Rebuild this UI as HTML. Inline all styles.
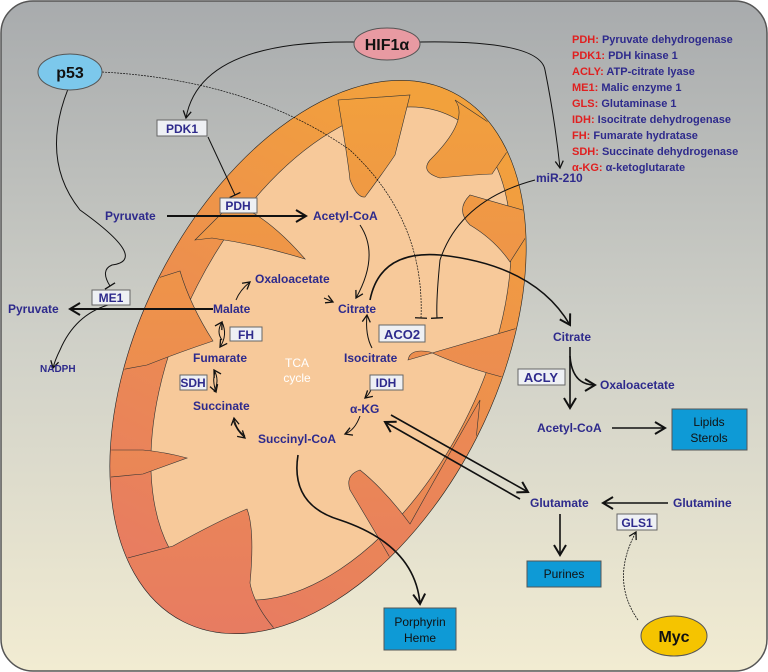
<!DOCTYPE html>
<html><head><meta charset="utf-8"><style>
html,body{margin:0;padding:0;background:#fff;width:768px;height:672px;overflow:hidden}
svg{display:block}
text{font-family:"Liberation Sans",sans-serif;font-weight:bold}
.b{fill:#2e2a8c;font-size:12px}
.r{fill:#e02020;font-size:11px}
.lg{fill:#2e2a8c;font-size:11px}
.n{font-weight:normal;fill:#111;font-size:12px}
</style></head><body>
<svg width="768" height="672" viewBox="0 0 768 672" xmlns="http://www.w3.org/2000/svg">
<defs>
<linearGradient id="bg" x1="0" y1="0" x2="0" y2="1">
<stop offset="0" stop-color="#a8abad"/><stop offset="0.5" stop-color="#cfd0c8"/><stop offset="1" stop-color="#f2ecd2"/></linearGradient>
<linearGradient id="mo" gradientUnits="userSpaceOnUse" x1="0" y1="80" x2="0" y2="640">
<stop offset="0" stop-color="#f2a13c"/><stop offset="1" stop-color="#e77b62"/></linearGradient>
<clipPath id="cl"><ellipse cx="318" cy="357" rx="177" ry="296" transform="rotate(27 318 357)"/></clipPath>
<marker id="a" markerWidth="10" markerHeight="10" refX="8" refY="5" orient="auto" markerUnits="userSpaceOnUse"><path d="M1,1 L8,5 L1,9" fill="none" stroke="#111" stroke-width="1.3"/></marker>
<marker id="A" markerWidth="14" markerHeight="14" refX="11" refY="7" orient="auto" markerUnits="userSpaceOnUse"><path d="M1,1 L11,7 L1,13" fill="none" stroke="#111" stroke-width="2"/></marker>
<marker id="t" markerWidth="12" markerHeight="12" refX="6" refY="6" orient="auto" markerUnits="userSpaceOnUse"><path d="M6,0 L6,12" stroke="#111" stroke-width="1.3"/></marker>
</defs>
<rect x="1" y="1" width="766" height="670" rx="32" fill="url(#bg)" stroke="#555" stroke-width="1.5"/>
<!-- mitochondrion -->
<g transform="rotate(27 318 357)">
<ellipse cx="318" cy="357" rx="178" ry="297" fill="url(#mo)" stroke="#222" stroke-width="0.6"/>
<ellipse cx="328" cy="348" rx="150" ry="266" fill="#f7c99a" stroke="#333" stroke-width="0.6"/>
</g>
<!-- cristae -->
<g fill="url(#mo)" stroke="#333" stroke-width="0.6" clip-path="url(#cl)">
<path d="M195 240 L212 238 Q260 245 305 259 Q280 230 255 214 L230 205 Z"/>
<path d="M338 100 Q348 160 350 180 Q357 198 365 197 Q385 170 395 155 L410 95 Z"/>
<path d="M455 100 Q470 120 430 160 Q420 172 440 178 Q470 175 492 174 L515 140 Z"/>
<path d="M470 195 Q455 210 470 225 Q495 240 510 262 L540 215 Z"/>
<path d="M408 360 Q410 348 430 352 Q470 370 515 380 L545 320 Z"/>
<path d="M480 400 Q440 470 410 524 Q385 490 360 470 Q345 475 350 490 Q380 540 400 575 L470 500 Z"/>
<path d="M120 560 L173 546 Q220 520 247 509 Q255 530 250 583 Q255 610 285 640 L150 640 Z"/>
<path d="M100 450 L143 450 Q165 452 187 458 Q165 466 143 474 L100 478 Z"/>
<path d="M120 290 L180 271 Q190 305 213 341 Q180 352 147 365 L120 370 Z"/>
</g>
<!-- connectors -->
<g fill="none" stroke="#111" stroke-width="1">
<path d="M355 42 Q200 40 186 118" marker-end="url(#a)"/>
<path d="M420 42 Q540 40 545 70 Q555 120 560 168" marker-end="url(#a)"/>
<path d="M535 180 Q460 200 440 260 Q436 300 437 318" marker-end="url(#t)"/>
<path d="M102 72 Q250 80 350 150 Q425 220 421 318" stroke-dasharray="2 1" stroke-width="0.7" marker-end="url(#t)"/>
<path d="M208 137 L235 195" marker-end="url(#t)"/>
<path d="M68 89 Q40 160 80 210 Q150 260 112 265 Q100 270 110 286" marker-end="url(#t)"/>
<path d="M108 305 Q75 315 60 350 Q55 360 53 368" marker-end="url(#a)"/>
<path d="M360 225 Q380 255 356 298" marker-end="url(#a)"/>
<path d="M236 300 Q240 290 250 282" marker-end="url(#a)"/>
<path d="M222 340 Q216 332 222 322" marker-end="url(#a)"/>
<path d="M222 322 Q228 335 220 347" marker-end="url(#a)"/>
<path d="M215 372 Q212 380 216 392" marker-end="url(#a)"/>
<path d="M214 392 Q220 380 214 370" marker-end="url(#a)"/>
<path d="M233 420 Q236 430 245 438" marker-end="url(#a)"/>
<path d="M245 436 Q236 430 234 418" marker-end="url(#a)"/>
<path d="M372 348 Q365 335 367 315" marker-end="url(#a)"/>
<path d="M372 378 Q374 390 365 398" marker-end="url(#a)"/>
<path d="M360 416 Q355 430 345 434" marker-end="url(#a)"/>
<path d="M324 298 L333 302" marker-end="url(#a)"/>
<path d="M638 620 Q610 580 636 532" stroke-dasharray="2 1" stroke-width="0.8" marker-end="url(#a)"/>
</g>
<g fill="none" stroke="#111" stroke-width="2">
<path d="M167 216 L306 216" marker-end="url(#A)"/>
<path d="M213 309 L70 309" marker-end="url(#A)"/>
<path d="M370 300 Q380 250 440 255 Q535 265 570 325" stroke-width="1.6" marker-end="url(#A)"/>
<path d="M570 347 L570 408" stroke-width="1.6" marker-end="url(#A)"/>
<path d="M570 356 Q572 385 595 385" stroke-width="1.6" marker-end="url(#A)"/>
<path d="M612 428 L665 428" stroke-width="1.6" marker-end="url(#A)"/>
<path d="M391 415 L528 492" stroke-width="1.6" marker-end="url(#A)"/>
<path d="M520 499 L385 422" stroke-width="1.6" marker-end="url(#A)"/>
<path d="M668 503 L603 503" stroke-width="1.6" marker-end="url(#A)"/>
<path d="M560 514 L560 555" stroke-width="1.6" marker-end="url(#A)"/>
<path d="M298 455 Q290 505 340 520 Q415 545 420 604" stroke-width="1.6" marker-end="url(#A)"/>
</g>
<!-- nodes -->
<ellipse cx="387" cy="44" rx="33" ry="16" fill="#e89aa2" stroke="#555"/>
<text x="387" y="50" text-anchor="middle" style="font-size:16px;fill:#111">HIF1α</text>
<ellipse cx="70" cy="72" rx="32" ry="18" fill="#7cc8ec" stroke="#555"/>
<text x="70" y="78" text-anchor="middle" style="font-size:16px;fill:#111">p53</text>
<ellipse cx="674" cy="636" rx="33" ry="20" fill="#f5c400" stroke="#555"/>
<text x="674" y="642" text-anchor="middle" style="font-size:16px;fill:#111">Myc</text>
<g fill="#eef0f4" stroke="#666" stroke-width="1">
<rect x="157" y="120" width="50" height="16"/><rect x="220" y="198" width="37" height="15"/>
<rect x="92" y="290" width="38" height="15"/><rect x="230" y="327" width="32" height="14"/>
<rect x="180" y="375" width="27" height="15"/><rect x="379" y="325" width="46" height="17"/>
<rect x="370" y="375" width="33" height="15"/><rect x="518" y="369" width="47" height="16"/>
<rect x="617" y="514" width="40" height="16"/>
</g>
<g fill="#0e9ad6" stroke="#555">
<rect x="672" y="409" width="75" height="41"/><rect x="527" y="561" width="74" height="26"/>
<rect x="384" y="608" width="72" height="42"/>
</g>
<g class="b">
<text x="182" y="133" text-anchor="middle">PDK1</text>
<text x="238" y="210" text-anchor="middle">PDH</text>
<text x="111" y="302" text-anchor="middle">ME1</text>
<text x="246" y="339" text-anchor="middle">FH</text>
<text x="193" y="387" text-anchor="middle">SDH</text>
<text x="402" y="339" text-anchor="middle" style="font-size:13px">ACO2</text>
<text x="386" y="387" text-anchor="middle">IDH</text>
<text x="541" y="382" text-anchor="middle" style="font-size:13px">ACLY</text>
<text x="637" y="527" text-anchor="middle">GLS1</text>
<text x="105" y="220">Pyruvate</text>
<text x="313" y="220">Acetyl-CoA</text>
<text x="8" y="313">Pyruvate</text>
<text x="255" y="283">Oxaloacetate</text>
<text x="213" y="313">Malate</text>
<text x="338" y="313">Citrate</text>
<text x="193" y="362">Fumarate</text>
<text x="344" y="362">Isocitrate</text>
<text x="193" y="410">Succinate</text>
<text x="350" y="413">α-KG</text>
<text x="258" y="443">Succinyl-CoA</text>
<text x="536" y="182">miR-210</text>
<text x="553" y="341">Citrate</text>
<text x="600" y="389">Oxaloacetate</text>
<text x="537" y="432">Acetyl-CoA</text>
<text x="530" y="507">Glutamate</text>
<text x="673" y="507">Glutamine</text>
<text x="40" y="372" style="font-size:10px">NADPH</text>
</g>
<text x="297" y="367" text-anchor="middle" style="fill:#fff;font-size:12px;font-weight:normal">TCA</text>
<text x="297" y="382" text-anchor="middle" style="fill:#fff;font-size:12px;font-weight:normal">cycle</text>
<text x="709" y="426" text-anchor="middle" class="n">Lipids</text>
<text x="709" y="442" text-anchor="middle" class="n">Sterols</text>
<text x="564" y="578" text-anchor="middle" class="n">Purines</text>
<text x="420" y="626" text-anchor="middle" class="n">Porphyrin</text>
<text x="420" y="642" text-anchor="middle" class="n">Heme</text>
<g>
<text x="572" y="43"><tspan class="r">PDH:</tspan><tspan class="lg"> Pyruvate dehydrogenase</tspan></text>
<text x="572" y="59"><tspan class="r">PDK1:</tspan><tspan class="lg"> PDH kinase 1</tspan></text>
<text x="572" y="75"><tspan class="r">ACLY:</tspan><tspan class="lg"> ATP-citrate lyase</tspan></text>
<text x="572" y="91"><tspan class="r">ME1:</tspan><tspan class="lg"> Malic enzyme 1</tspan></text>
<text x="572" y="107"><tspan class="r">GLS:</tspan><tspan class="lg"> Glutaminase 1</tspan></text>
<text x="572" y="123"><tspan class="r">IDH:</tspan><tspan class="lg"> Isocitrate dehydrogenase</tspan></text>
<text x="572" y="139"><tspan class="r">FH:</tspan><tspan class="lg"> Fumarate hydratase</tspan></text>
<text x="572" y="155"><tspan class="r">SDH:</tspan><tspan class="lg"> Succinate dehydrogenase</tspan></text>
<text x="572" y="171"><tspan class="r">α-KG:</tspan><tspan class="lg"> α-ketoglutarate</tspan></text>
</g>
</svg>
</body></html>
